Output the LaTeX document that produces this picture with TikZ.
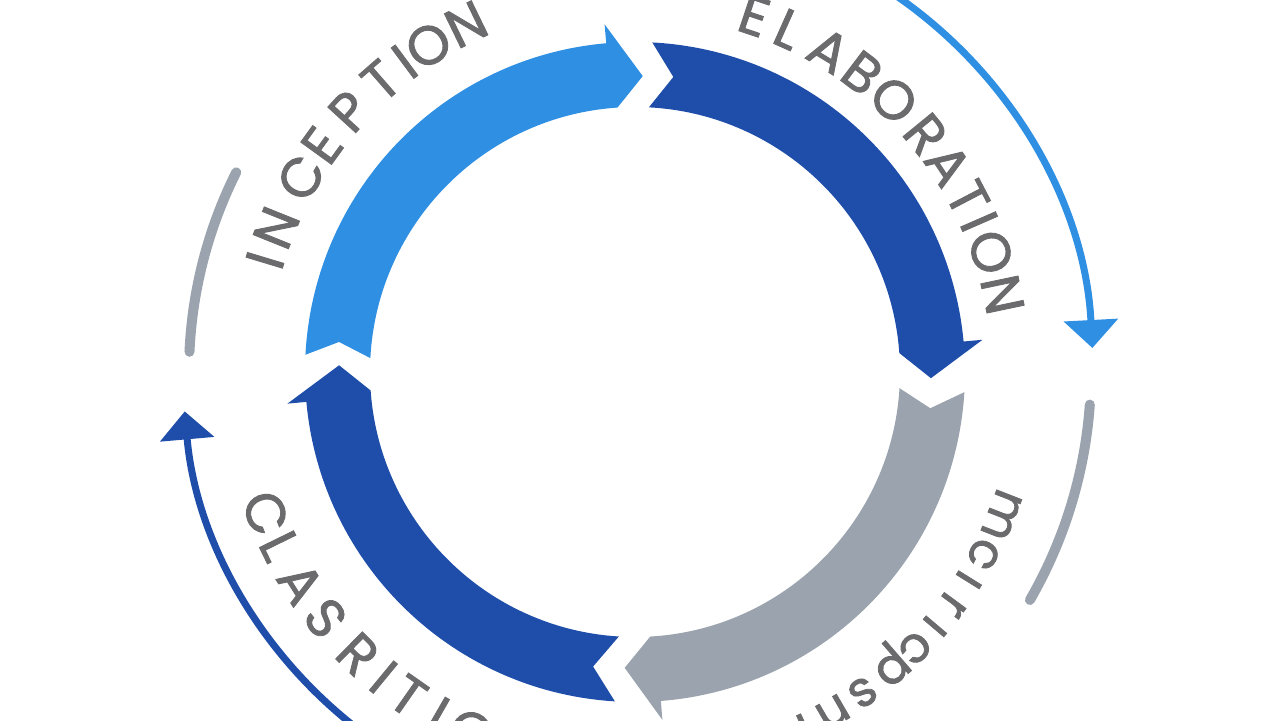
\documentclass[tikz,border=0pt]{standalone}
\usepackage{fontspec}
\setmainfont{Poppins}
\newfontfamily\phasefont{Poppins}[FakeBold=1.6]
\usetikzlibrary{arrows.meta}
\definecolor{incblue}{RGB}{46,143,227}
\definecolor{elabblue}{RGB}{31,78,170}
\definecolor{ringgray}{RGB}{155,164,174}
\definecolor{labelgray}{RGB}{107,107,110}
\tikzset{
  phase/.style={text=labelgray,inner sep=0pt,text height=21pt,text depth=0pt,font=\phasefont\fontsize{31}{32}\selectfont},
  lower/.style={phase,text height=15pt,font=\phasefont\fontsize{28}{29}\selectfont},
  outer/.style={line width=0.2cm,ringgray,line cap=round},
  cyc/.style={line width=0.14cm,-{Triangle[width=1.06cm,length=0.56cm]}}
}

\begin{document}
\begin{tikzpicture}
   \useasboundingbox (0,0) rectangle (25.6,14.4);
   \clip (0,0) rectangle (25.6,14.4);
   \begin{scope}[shift={(12.7,6.96)}]
   \foreach \a/\b/\n/\col in {177/88.5/2.8/incblue,87/-1.2/4.4/elabblue,-3.5/-92/3.5/ringgray,-93.5/-181.3/4.6/elabblue}
      \fill[\col] (\a:6.6) arc[start angle=\a,end angle=\b+6.5,radius=6.6] -- ({\b+6.5}:6.98) -- (\b:5.92)
         -- ({\b+5.3}:5.3) arc[start angle=\b+5.3,end angle=\a,radius=5.3] -- ({\a-\n}:5.95) -- cycle;
   \draw[outer] (153.4:8.92) arc[start angle=153.4,end angle=177.4,radius=8.92];
   \draw[outer] (-4.1:9.12) arc[start angle=-4.1,end angle=-30,radius=9.12];
   \draw[cyc,incblue] (62:9.16) arc[start angle=62,end angle=3,radius=9.16];
   \draw[cyc,elabblue] (238:9.04) arc[start angle=238,end angle=185,radius=9.04];
   \foreach \ang/\ch [count=\i] in {163.2/I,158.1/N,149.8/C,144.1/E,137.6/P,131.1/T,126.6/I,122.3/O,115.9/N}
      \node[phase,rotate=\ang-90] (inc\i) at (\ang:7.72) {\ch};
   \foreach \ang/\ch [count=\i] in {71.5/E,65.9/L,58.9/A,52.8/B,46.4/O,39.3/R,33.5/A,27.6/T,23.6/I,18.6/O,11.9/N}
      \node[phase,rotate=\ang-90] (elab\i) at (\ang:7.5) {\ch};
   \foreach \ang/\ch [count=\i] in {200.9/C,206.1/L,212.3/A,218.5/S,225.5/R,230.5/I,235/T,240.1/I,245.5/O}
      \node[phase,rotate=\ang+90] (clas\i) at (\ang:7.92) {\ch};
   \foreach \ang/\ch [count=\i] in {-21.3/m,-27.6/c,-31.9/ı,-36.3/r,-40.3/ı,-44.6/c,-49/p,-54.6/s,-59.8/n,-64.5/ı}
      \node[lower,rotate=\ang-90] (tran\i) at (\ang:7.86) {\ch};
   \end{scope}
\end{tikzpicture}
\end{document}
